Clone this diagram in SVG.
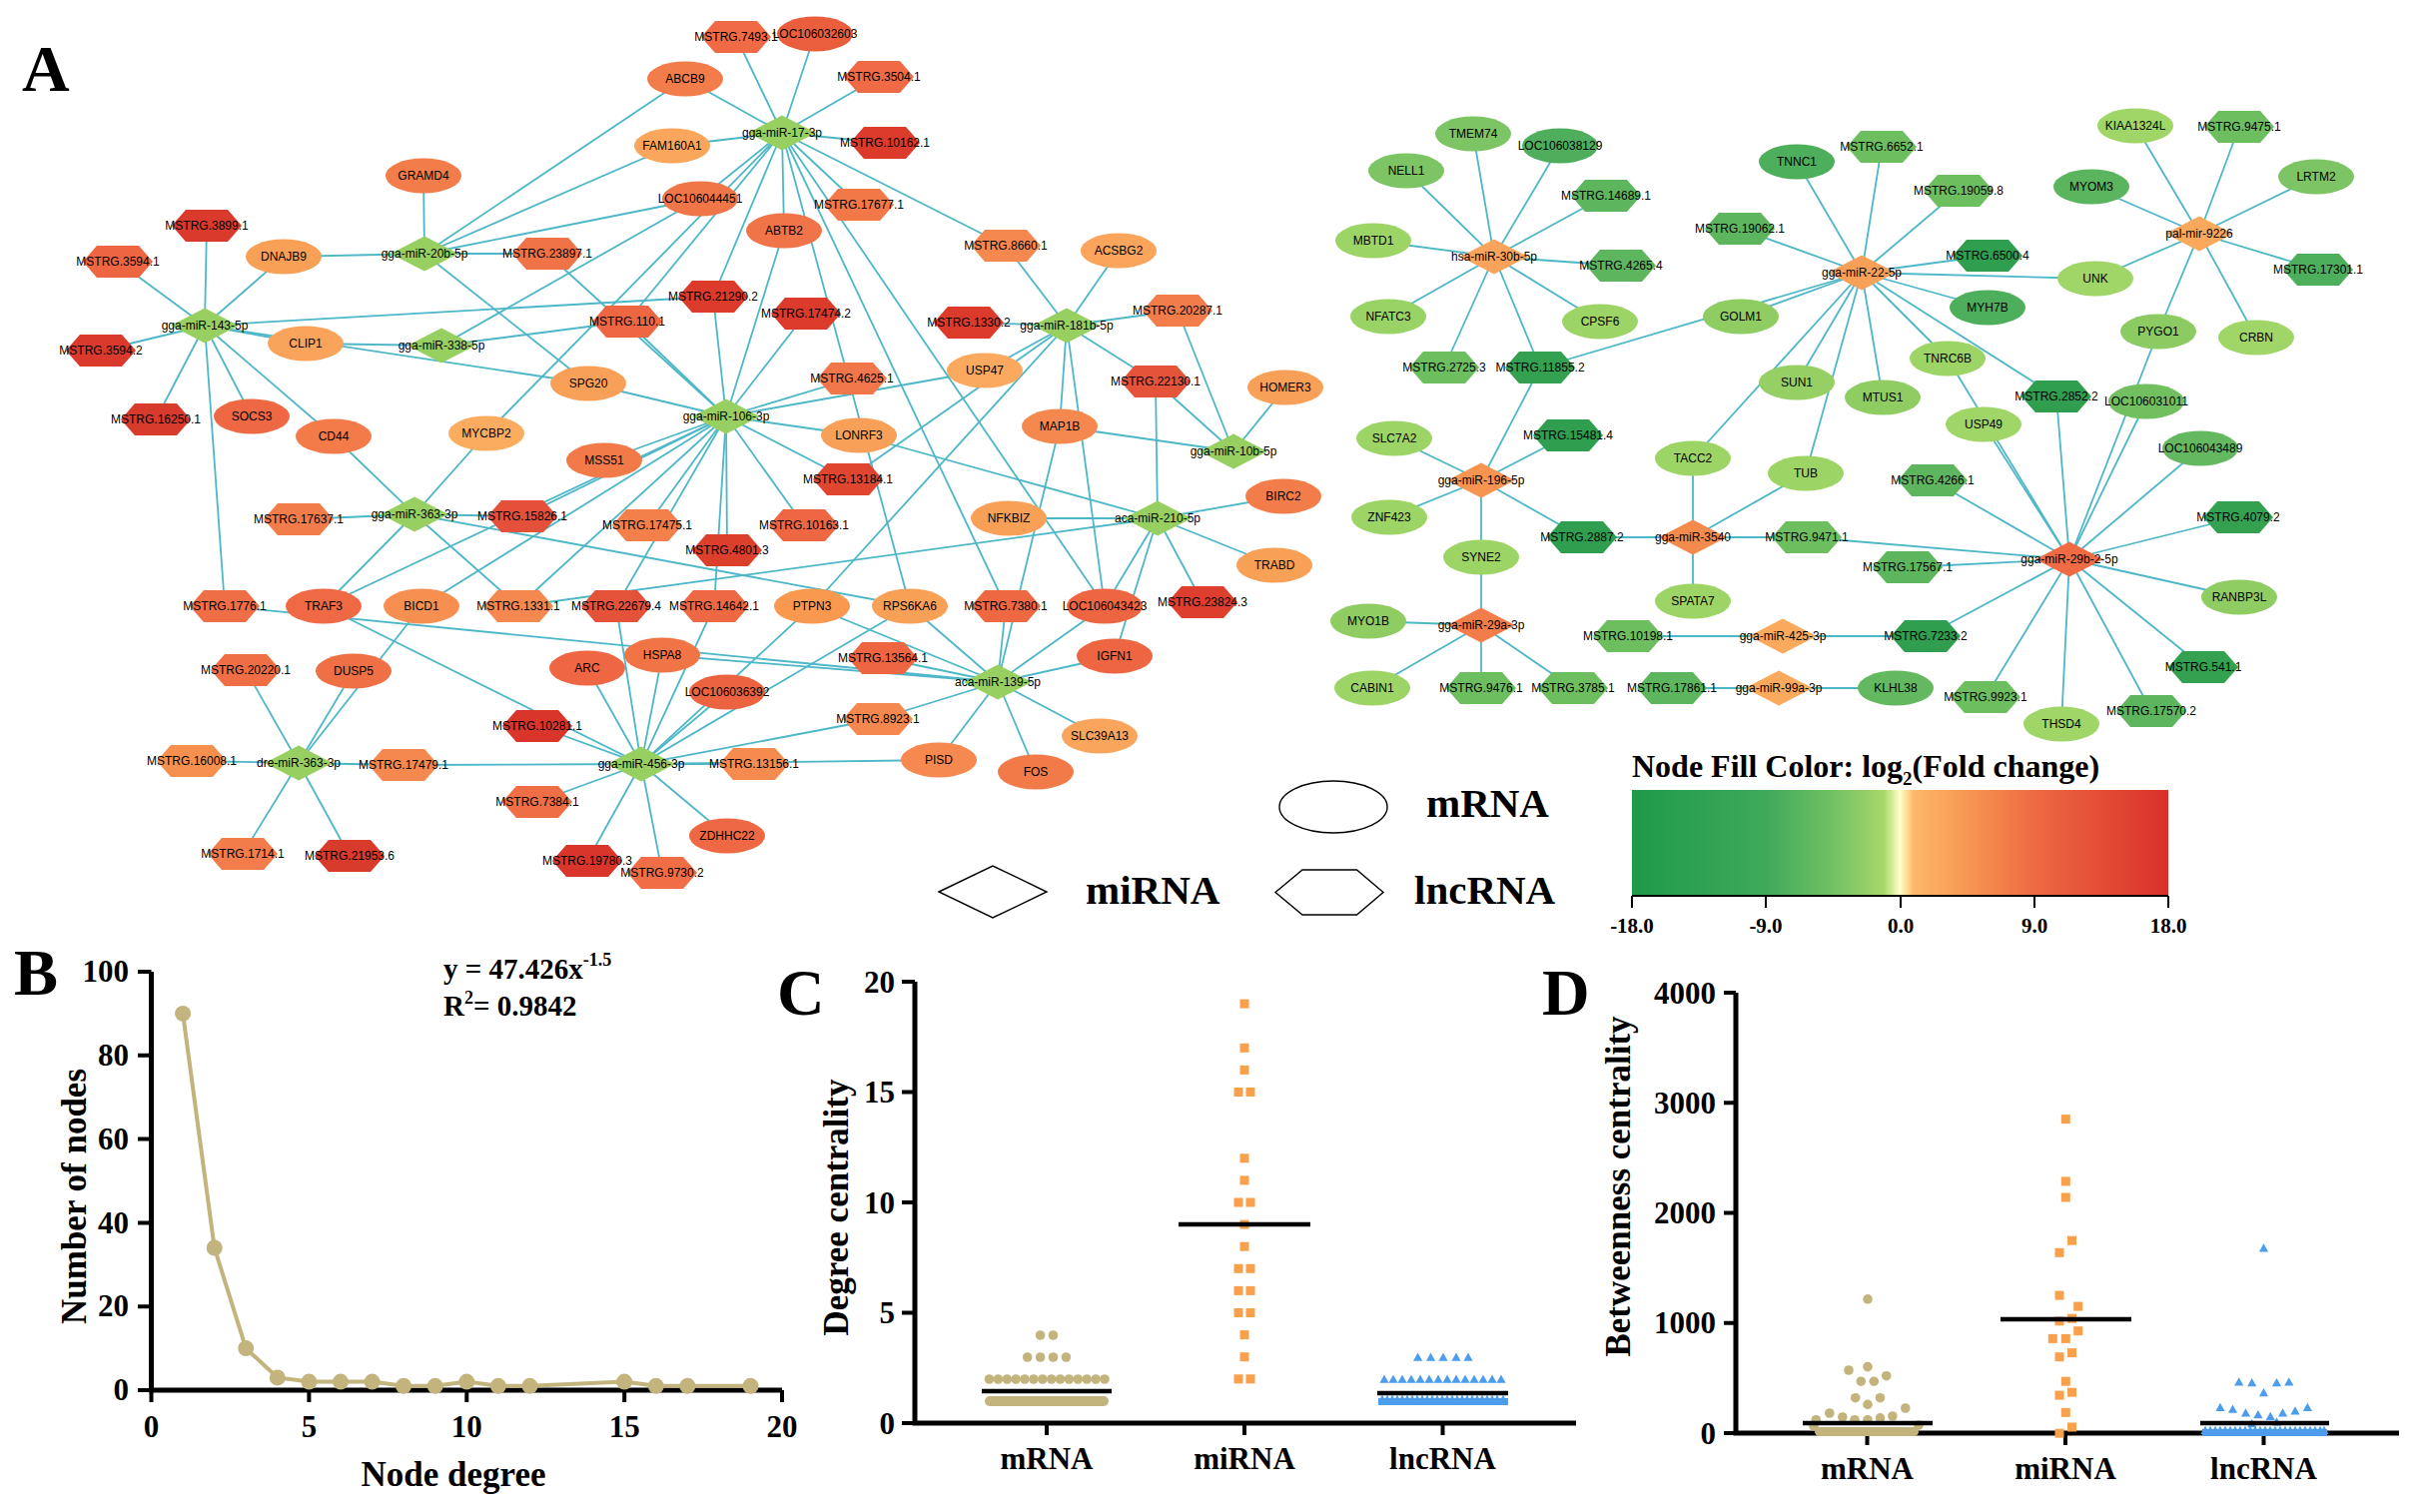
<svg xmlns="http://www.w3.org/2000/svg" width="2413" height="1514" viewBox="0 0 2413 1514">
<style>
#edges line{stroke:#4DB7C8;stroke-width:1.8}
.nodes text{font-family:"Liberation Sans",Arial,sans-serif;font-size:12px;text-anchor:middle;fill:#000}
.sf{font-family:"Liberation Serif","Times New Roman",serif;font-weight:bold;fill:#000}
.big{font-size:66px}
.tk{font-size:31px}
.ttl{font-size:35px}
.axis{fill:none;stroke:#000;stroke-width:5}
.tick{stroke:#000;stroke-width:4}
.mean{stroke:#000;stroke-width:4.5}
.lg{fill:none;stroke:#000;stroke-width:1.4}
.pm{fill:#C2B47C}
.pi{fill:#F9A04C}
.pl{fill:#4C9DEB}
</style>
<defs>
<polygon id="hx" points="-35,0 -21,-16 21,-16 35,0 21,16 -21,16"/>
<polygon id="dm" points="-34,0 0,-17.5 34,0 0,17.5"/>
<polygon id="tr" points="-4.6,4 0,-4.2 4.6,4"/>
<rect id="sq" x="-4.5" y="-4.5" width="9" height="9"/>
<linearGradient id="fc" x1="0" x2="1" y1="0" y2="0">
<stop offset="0" stop-color="#1E9A4A"/>
<stop offset="0.25" stop-color="#3FA95A"/>
<stop offset="0.38" stop-color="#74C264"/>
<stop offset="0.47" stop-color="#A8D86A"/>
<stop offset="0.50" stop-color="#FFFFC8"/>
<stop offset="0.525" stop-color="#FDB868"/>
<stop offset="0.63" stop-color="#F79552"/>
<stop offset="0.75" stop-color="#EE6A42"/>
<stop offset="1" stop-color="#D9302A"/>
</linearGradient>
</defs>
<rect width="2413" height="1514" fill="#fff"/>
<text class="sf big" x="22" y="91">A</text>

<g id="edges">
<!-- gga-miR-17-3p -->
<line x1="783" y1="133" x2="737" y2="37"/><line x1="783" y1="133" x2="816" y2="34"/><line x1="783" y1="133" x2="686" y2="79"/><line x1="783" y1="133" x2="880" y2="77"/><line x1="783" y1="133" x2="673" y2="146"/><line x1="783" y1="133" x2="886" y2="143"/><line x1="783" y1="133" x2="860" y2="205"/><line x1="783" y1="133" x2="1007" y2="246"/><line x1="783" y1="133" x2="785" y2="231"/><line x1="783" y1="133" x2="701" y2="199"/><line x1="783" y1="133" x2="628" y2="322"/><line x1="783" y1="133" x2="714" y2="297"/><line x1="783" y1="133" x2="1007" y2="607"/><line x1="783" y1="133" x2="1106" y2="607"/><line x1="783" y1="133" x2="911" y2="607"/><line x1="783" y1="133" x2="487" y2="434"/>
<!-- gga-miR-20b-5p -->
<line x1="425" y1="254" x2="424" y2="176"/><line x1="425" y1="254" x2="284" y2="257"/><line x1="425" y1="254" x2="686" y2="79"/><line x1="425" y1="254" x2="673" y2="146"/><line x1="425" y1="254" x2="701" y2="199"/><line x1="425" y1="254" x2="548" y2="254"/><line x1="425" y1="254" x2="589" y2="384"/>
<!-- gga-miR-143-5p -->
<line x1="205" y1="326" x2="207" y2="226"/><line x1="205" y1="326" x2="118" y2="262"/><line x1="205" y1="326" x2="284" y2="257"/><line x1="205" y1="326" x2="101" y2="351"/><line x1="205" y1="326" x2="306" y2="344"/><line x1="205" y1="326" x2="589" y2="384"/><line x1="205" y1="326" x2="714" y2="297"/><line x1="205" y1="326" x2="156" y2="420"/><line x1="205" y1="326" x2="252" y2="417"/><line x1="205" y1="326" x2="334" y2="437"/><line x1="205" y1="326" x2="225" y2="607"/>
<!-- gga-miR-338-5p -->
<line x1="442" y1="346" x2="306" y2="344"/><line x1="442" y1="346" x2="628" y2="322"/><line x1="442" y1="346" x2="701" y2="199"/>
<!-- gga-miR-106-3p -->
<line x1="727" y1="417" x2="548" y2="254"/><line x1="727" y1="417" x2="628" y2="322"/><line x1="727" y1="417" x2="589" y2="384"/><line x1="727" y1="417" x2="714" y2="297"/><line x1="727" y1="417" x2="785" y2="231"/><line x1="727" y1="417" x2="807" y2="314"/><line x1="727" y1="417" x2="853" y2="379"/><line x1="727" y1="417" x2="986" y2="371"/><line x1="727" y1="417" x2="860" y2="436"/><line x1="727" y1="417" x2="605" y2="461"/><line x1="727" y1="417" x2="523" y2="517"/><line x1="727" y1="417" x2="324" y2="607"/><line x1="727" y1="417" x2="422" y2="607"/><line x1="727" y1="417" x2="519" y2="607"/><line x1="727" y1="417" x2="617" y2="607"/><line x1="727" y1="417" x2="648" y2="526"/><line x1="727" y1="417" x2="728" y2="551"/><line x1="727" y1="417" x2="715" y2="607"/><line x1="727" y1="417" x2="805" y2="526"/><line x1="727" y1="417" x2="849" y2="480"/>
<!-- gga-miR-181b-5p -->
<line x1="1068" y1="326" x2="1007" y2="246"/><line x1="1068" y1="326" x2="1120" y2="251"/><line x1="1068" y1="326" x2="970" y2="323"/><line x1="1068" y1="326" x2="1179" y2="311"/><line x1="1068" y1="326" x2="986" y2="371"/><line x1="1068" y1="326" x2="1157" y2="382"/><line x1="1068" y1="326" x2="1061" y2="427"/><line x1="1068" y1="326" x2="1106" y2="607"/><line x1="1068" y1="326" x2="849" y2="480"/><line x1="1068" y1="326" x2="813" y2="607"/>
<!-- gga-miR-10b-5p -->
<line x1="1235" y1="452" x2="1061" y2="427"/><line x1="1235" y1="452" x2="1157" y2="382"/><line x1="1235" y1="452" x2="1179" y2="311"/><line x1="1235" y1="452" x2="1287" y2="388"/>
<!-- gga-miR-363-3p -->
<line x1="415" y1="515" x2="299" y2="520"/><line x1="415" y1="515" x2="523" y2="517"/><line x1="415" y1="515" x2="334" y2="437"/><line x1="415" y1="515" x2="487" y2="434"/><line x1="415" y1="515" x2="324" y2="607"/><line x1="415" y1="515" x2="519" y2="607"/><line x1="415" y1="515" x2="911" y2="607"/>
<!-- aca-miR-210-5p -->
<line x1="1159" y1="519" x2="1010" y2="519"/><line x1="1159" y1="519" x2="1285" y2="497"/><line x1="1159" y1="519" x2="1276" y2="566"/><line x1="1159" y1="519" x2="1204" y2="603"/><line x1="1159" y1="519" x2="1106" y2="607"/><line x1="1159" y1="519" x2="1116" y2="657"/><line x1="1159" y1="519" x2="1157" y2="382"/><line x1="1159" y1="519" x2="519" y2="607"/><line x1="1159" y1="519" x2="860" y2="436"/>
<!-- aca-miR-139-5p -->
<line x1="999" y1="683" x2="884" y2="659"/><line x1="999" y1="683" x2="1116" y2="657"/><line x1="999" y1="683" x2="1106" y2="607"/><line x1="999" y1="683" x2="1007" y2="607"/><line x1="999" y1="683" x2="911" y2="607"/><line x1="999" y1="683" x2="813" y2="607"/><line x1="999" y1="683" x2="879" y2="720"/><line x1="999" y1="683" x2="1101" y2="737"/><line x1="999" y1="683" x2="940" y2="761"/><line x1="999" y1="683" x2="1037" y2="773"/><line x1="999" y1="683" x2="1061" y2="427"/><line x1="999" y1="683" x2="225" y2="607"/><line x1="999" y1="683" x2="663" y2="656"/>
<!-- dre-miR-363-3p -->
<line x1="299" y1="764" x2="246" y2="671"/><line x1="299" y1="764" x2="354" y2="672"/><line x1="299" y1="764" x2="422" y2="607"/><line x1="299" y1="764" x2="192" y2="762"/><line x1="299" y1="764" x2="404" y2="766"/><line x1="299" y1="764" x2="243" y2="855"/><line x1="299" y1="764" x2="350" y2="857"/>
<!-- gga-miR-456-3p -->
<line x1="642" y1="765" x2="404" y2="766"/><line x1="642" y1="765" x2="538" y2="727"/><line x1="642" y1="765" x2="324" y2="607"/><line x1="642" y1="765" x2="588" y2="669"/><line x1="642" y1="765" x2="663" y2="656"/><line x1="642" y1="765" x2="617" y2="607"/><line x1="642" y1="765" x2="538" y2="803"/><line x1="642" y1="765" x2="588" y2="862"/><line x1="642" y1="765" x2="663" y2="874"/><line x1="642" y1="765" x2="728" y2="837"/><line x1="642" y1="765" x2="755" y2="765"/><line x1="642" y1="765" x2="940" y2="761"/><line x1="642" y1="765" x2="879" y2="720"/><line x1="642" y1="765" x2="728" y2="693"/><line x1="642" y1="765" x2="813" y2="607"/><line x1="642" y1="765" x2="911" y2="607"/><line x1="642" y1="765" x2="715" y2="607"/>
<!-- hsa-miR-30b-5p -->
<line x1="1496" y1="257" x2="1475" y2="134"/><line x1="1496" y1="257" x2="1562" y2="146"/><line x1="1496" y1="257" x2="1408" y2="171"/><line x1="1496" y1="257" x2="1608" y2="196"/><line x1="1496" y1="257" x2="1375" y2="241"/><line x1="1496" y1="257" x2="1623" y2="266"/><line x1="1496" y1="257" x2="1390" y2="317"/><line x1="1496" y1="257" x2="1602" y2="322"/><line x1="1496" y1="257" x2="1446" y2="368"/><line x1="1496" y1="257" x2="1542" y2="368"/>
<!-- gga-miR-22-5p -->
<line x1="1864" y1="273" x2="1742" y2="229"/><line x1="1864" y1="273" x2="1799" y2="162"/><line x1="1864" y1="273" x2="1884" y2="147"/><line x1="1864" y1="273" x2="1961" y2="191"/><line x1="1864" y1="273" x2="1990" y2="256"/><line x1="1864" y1="273" x2="2098" y2="279"/><line x1="1864" y1="273" x2="1990" y2="308"/><line x1="1864" y1="273" x2="1950" y2="359"/><line x1="1864" y1="273" x2="2059" y2="397"/><line x1="1864" y1="273" x2="1885" y2="398"/><line x1="1864" y1="273" x2="1743" y2="317"/><line x1="1864" y1="273" x2="1542" y2="368"/><line x1="1864" y1="273" x2="1799" y2="383"/><line x1="1864" y1="273" x2="1695" y2="459"/><line x1="1864" y1="273" x2="1808" y2="474"/>
<!-- pal-mir-9226 -->
<line x1="2202" y1="234" x2="2138" y2="126"/><line x1="2202" y1="234" x2="2242" y2="127"/><line x1="2202" y1="234" x2="2319" y2="177"/><line x1="2202" y1="234" x2="2094" y2="187"/><line x1="2202" y1="234" x2="2098" y2="279"/><line x1="2202" y1="234" x2="2321" y2="270"/><line x1="2202" y1="234" x2="2161" y2="332"/><line x1="2202" y1="234" x2="2259" y2="338"/>
<!-- gga-miR-196-5p -->
<line x1="1483" y1="481" x2="1396" y2="439"/><line x1="1483" y1="481" x2="1570" y2="436"/><line x1="1483" y1="481" x2="1391" y2="518"/><line x1="1483" y1="481" x2="1483" y2="558"/><line x1="1483" y1="481" x2="1584" y2="538"/><line x1="1483" y1="481" x2="1542" y2="368"/>
<!-- gga-miR-3540 -->
<line x1="1695" y1="538" x2="1584" y2="538"/><line x1="1695" y1="538" x2="1809" y2="538"/><line x1="1695" y1="538" x2="1695" y2="459"/><line x1="1695" y1="538" x2="1808" y2="474"/><line x1="1695" y1="538" x2="1695" y2="602"/>
<!-- gga-miR-29a-3p -->
<line x1="1483" y1="626" x2="1483" y2="558"/><line x1="1483" y1="626" x2="1370" y2="622"/><line x1="1483" y1="626" x2="1374" y2="689"/><line x1="1483" y1="626" x2="1483" y2="689"/><line x1="1483" y1="626" x2="1575" y2="689"/>
<!-- gga-miR-425-3p / gga-miR-99a-3p -->
<line x1="1785" y1="637" x2="1630" y2="637"/><line x1="1785" y1="637" x2="1928" y2="637"/>
<line x1="1781" y1="689" x2="1674" y2="689"/><line x1="1781" y1="689" x2="1898" y2="689"/>
<!-- gga-miR-29b-2-5p -->
<line x1="2072" y1="560" x2="1809" y2="538"/><line x1="2072" y1="560" x2="1935" y2="481"/><line x1="2072" y1="560" x2="1910" y2="568"/><line x1="2072" y1="560" x2="2241" y2="518"/><line x1="2072" y1="560" x2="2242" y2="598"/><line x1="2072" y1="560" x2="1928" y2="637"/><line x1="2072" y1="560" x2="2206" y2="668"/><line x1="2072" y1="560" x2="2154" y2="712"/><line x1="2072" y1="560" x2="2064" y2="725"/><line x1="2072" y1="560" x2="1988" y2="698"/><line x1="2072" y1="560" x2="2203" y2="449"/><line x1="2072" y1="560" x2="2059" y2="397"/><line x1="2072" y1="560" x2="2149" y2="402"/><line x1="2072" y1="560" x2="2161" y2="332"/><line x1="2072" y1="560" x2="1986" y2="425"/><line x1="2072" y1="560" x2="1950" y2="359"/>
</g>

<g class="nodes">
<!-- left lncRNA -->
<g id="MSTRG_7493_1"><use href="#hx" x="737" y="37" fill="#F06A45"/><text x="737" y="41">MSTRG.7493.1</text></g>
<g id="MSTRG_3504_1"><use href="#hx" x="880" y="77" fill="#F06A45"/><text x="880" y="81">MSTRG.3504.1</text></g>
<g id="MSTRG_10162_1"><use href="#hx" x="886" y="143" fill="#DC3A2B"/><text x="886" y="147">MSTRG.10162.1</text></g>
<g id="MSTRG_17677_1"><use href="#hx" x="860" y="205" fill="#F27848"/><text x="860" y="209">MSTRG.17677.1</text></g>
<g id="MSTRG_3899_1"><use href="#hx" x="207" y="226" fill="#D93A2B"/><text x="207" y="230">MSTRG.3899.1</text></g>
<g id="MSTRG_3594_1"><use href="#hx" x="118" y="262" fill="#EE6541"/><text x="118" y="266">MSTRG.3594.1</text></g>
<g id="MSTRG_23897_1"><use href="#hx" x="548" y="254" fill="#F07247"/><text x="548" y="258">MSTRG.23897.1</text></g>
<g id="MSTRG_8660_1"><use href="#hx" x="1007" y="246" fill="#F5884E"/><text x="1007" y="250">MSTRG.8660.1</text></g>
<g id="MSTRG_21290_2"><use href="#hx" x="714" y="297" fill="#DC3A2B"/><text x="714" y="301">MSTRG.21290.2</text></g>
<g id="MSTRG_17474_2"><use href="#hx" x="807" y="314" fill="#DC3A2B"/><text x="807" y="318">MSTRG.17474.2</text></g>
<g id="MSTRG_1330_2"><use href="#hx" x="970" y="323" fill="#DC3A2B"/><text x="970" y="327">MSTRG.1330.2</text></g>
<g id="MSTRG_20287_1"><use href="#hx" x="1179" y="311" fill="#F27C4A"/><text x="1179" y="315">MSTRG.20287.1</text></g>
<g id="MSTRG_110_1"><use href="#hx" x="628" y="322" fill="#EE6642"/><text x="628" y="326">MSTRG.110.1</text></g>
<g id="MSTRG_3594_2"><use href="#hx" x="101" y="351" fill="#D93A2B"/><text x="101" y="355">MSTRG.3594.2</text></g>
<g id="MSTRG_4625_1"><use href="#hx" x="853" y="379" fill="#F1764A"/><text x="853" y="383">MSTRG.4625.1</text></g>
<g id="MSTRG_22130_1"><use href="#hx" x="1157" y="382" fill="#E4533A"/><text x="1157" y="386">MSTRG.22130.1</text></g>
<g id="MSTRG_16250_1"><use href="#hx" x="156" y="420" fill="#D83A2B"/><text x="156" y="424">MSTRG.16250.1</text></g>
<g id="MSTRG_13184_1"><use href="#hx" x="849" y="480" fill="#E0452F"/><text x="849" y="484">MSTRG.13184.1</text></g>
<g id="MSTRG_15826_1"><use href="#hx" x="523" y="517" fill="#E4503A"/><text x="523" y="521">MSTRG.15826.1</text></g>
<g id="MSTRG_17637_1"><use href="#hx" x="299" y="520" fill="#F27C4A"/><text x="299" y="524">MSTRG.17637.1</text></g>
<g id="MSTRG_17475_1"><use href="#hx" x="648" y="526" fill="#F37F4B"/><text x="648" y="530">MSTRG.17475.1</text></g>
<g id="MSTRG_10163_1"><use href="#hx" x="805" y="526" fill="#EE6642"/><text x="805" y="530">MSTRG.10163.1</text></g>
<g id="MSTRG_4801_3"><use href="#hx" x="728" y="551" fill="#DD3F2D"/><text x="728" y="555">MSTRG.4801.3</text></g>
<g id="MSTRG_1776_1"><use href="#hx" x="225" y="607" fill="#F06E45"/><text x="225" y="611">MSTRG.1776.1</text></g>
<g id="MSTRG_1331_1"><use href="#hx" x="519" y="607" fill="#F5884E"/><text x="519" y="611">MSTRG.1331.1</text></g>
<g id="MSTRG_22679_4"><use href="#hx" x="617" y="607" fill="#E4523A"/><text x="617" y="611">MSTRG.22679.4</text></g>
<g id="MSTRG_14642_1"><use href="#hx" x="715" y="607" fill="#EE6843"/><text x="715" y="611">MSTRG.14642.1</text></g>
<g id="MSTRG_7380_1"><use href="#hx" x="1007" y="607" fill="#EE6842"/><text x="1007" y="611">MSTRG.7380.1</text></g>
<g id="MSTRG_23824_3"><use href="#hx" x="1204" y="603" fill="#DD3E2E"/><text x="1204" y="607">MSTRG.23824.3</text></g>
<g id="MSTRG_13564_1"><use href="#hx" x="884" y="659" fill="#EE6541"/><text x="884" y="663">MSTRG.13564.1</text></g>
<g id="MSTRG_20220_1"><use href="#hx" x="246" y="671" fill="#F06E45"/><text x="246" y="675">MSTRG.20220.1</text></g>
<g id="MSTRG_8923_1"><use href="#hx" x="879" y="720" fill="#F5884E"/><text x="879" y="724">MSTRG.8923.1</text></g>
<g id="MSTRG_10281_1"><use href="#hx" x="538" y="727" fill="#D9352B"/><text x="538" y="731">MSTRG.10281.1</text></g>
<g id="MSTRG_16008_1"><use href="#hx" x="192" y="762" fill="#F6904F"/><text x="192" y="766">MSTRG.16008.1</text></g>
<g id="MSTRG_17479_1"><use href="#hx" x="404" y="766" fill="#F5884E"/><text x="404" y="770">MSTRG.17479.1</text></g>
<g id="MSTRG_13156_1"><use href="#hx" x="755" y="765" fill="#F58B4F"/><text x="755" y="769">MSTRG.13156.1</text></g>
<g id="MSTRG_7384_1"><use href="#hx" x="538" y="803" fill="#F06E45"/><text x="538" y="807">MSTRG.7384.1</text></g>
<g id="MSTRG_1714_1"><use href="#hx" x="243" y="855" fill="#F27D4A"/><text x="243" y="859">MSTRG.1714.1</text></g>
<g id="MSTRG_21953_6"><use href="#hx" x="350" y="857" fill="#D83A2C"/><text x="350" y="861">MSTRG.21953.6</text></g>
<g id="MSTRG_19780_3"><use href="#hx" x="588" y="862" fill="#D9352B"/><text x="588" y="866">MSTRG.19780.3</text></g>
<g id="MSTRG_9730_2"><use href="#hx" x="663" y="874" fill="#F06D45"/><text x="663" y="878">MSTRG.9730.2</text></g>
<!-- left mRNA -->
<g id="ABCB9"><ellipse cx="686" cy="79" rx="38" ry="17.5" fill="#F27C4A"/><text x="686" y="83">ABCB9</text></g>
<g id="FAM160A1"><ellipse cx="673" cy="146" rx="38" ry="17.5" fill="#FAA65C"/><text x="673" y="150">FAM160A1</text></g>
<g id="LOC106044451"><ellipse cx="701" cy="199" rx="38" ry="17.5" fill="#F07547"/><text x="701" y="203">LOC106044451</text></g>
<g id="GRAMD4"><ellipse cx="424" cy="176" rx="38" ry="17.5" fill="#F27C4A"/><text x="424" y="180">GRAMD4</text></g>
<g id="DNAJB9"><ellipse cx="284" cy="257" rx="38" ry="17.5" fill="#F9A057"/><text x="284" y="261">DNAJB9</text></g>
<g id="CLIP1"><ellipse cx="306" cy="344" rx="38" ry="17.5" fill="#FAA45B"/><text x="306" y="348">CLIP1</text></g>
<g id="SPG20"><ellipse cx="589" cy="384" rx="38" ry="17.5" fill="#F9A058"/><text x="589" y="388">SPG20</text></g>
<g id="SOCS3"><ellipse cx="252" cy="417" rx="38" ry="17.5" fill="#EE6843"/><text x="252" y="421">SOCS3</text></g>
<g id="CD44"><ellipse cx="334" cy="437" rx="38" ry="17.5" fill="#F27B49"/><text x="334" y="441">CD44</text></g>
<g id="MYCBP2"><ellipse cx="487" cy="434" rx="38" ry="17.5" fill="#FCAC5E"/><text x="487" y="438">MYCBP2</text></g>
<g id="MSS51"><ellipse cx="605" cy="461" rx="38" ry="17.5" fill="#F27A49"/><text x="605" y="465">MSS51</text></g>
<g id="LOC106032603"><ellipse cx="816" cy="34" rx="38" ry="17.5" fill="#EA5E3E"/><text x="816" y="38">LOC106032603</text></g>
<g id="ABTB2"><ellipse cx="785" cy="231" rx="38" ry="17.5" fill="#F07447"/><text x="785" y="235">ABTB2</text></g>
<g id="ACSBG2"><ellipse cx="1120" cy="251" rx="38" ry="17.5" fill="#FAA55B"/><text x="1120" y="255">ACSBG2</text></g>
<g id="USP47"><ellipse cx="986" cy="371" rx="38" ry="17.5" fill="#FBA95E"/><text x="986" y="375">USP47</text></g>
<g id="LONRF3"><ellipse cx="860" cy="436" rx="38" ry="17.5" fill="#F9A058"/><text x="860" y="440">LONRF3</text></g>
<g id="MAP1B"><ellipse cx="1061" cy="427" rx="38" ry="17.5" fill="#F5884E"/><text x="1061" y="431">MAP1B</text></g>
<g id="HOMER3"><ellipse cx="1287" cy="388" rx="38" ry="17.5" fill="#F9A058"/><text x="1287" y="392">HOMER3</text></g>
<g id="NFKBIZ"><ellipse cx="1010" cy="519" rx="38" ry="17.5" fill="#F9A057"/><text x="1010" y="523">NFKBIZ</text></g>
<g id="BIRC2"><ellipse cx="1285" cy="497" rx="38" ry="17.5" fill="#F27C4A"/><text x="1285" y="501">BIRC2</text></g>
<g id="TRABD"><ellipse cx="1276" cy="566" rx="38" ry="17.5" fill="#F9A057"/><text x="1276" y="570">TRABD</text></g>
<g id="TRAF3"><ellipse cx="324" cy="607" rx="38" ry="17.5" fill="#EF6A44"/><text x="324" y="611">TRAF3</text></g>
<g id="BICD1"><ellipse cx="422" cy="607" rx="38" ry="17.5" fill="#F78F51"/><text x="422" y="611">BICD1</text></g>
<g id="PTPN3"><ellipse cx="813" cy="607" rx="38" ry="17.5" fill="#F8994F"/><text x="813" y="611">PTPN3</text></g>
<g id="RPS6KA6"><ellipse cx="911" cy="607" rx="38" ry="17.5" fill="#F9A057"/><text x="911" y="611">RPS6KA6</text></g>
<g id="LOC106043423"><ellipse cx="1106" cy="607" rx="38" ry="17.5" fill="#EE6541"/><text x="1106" y="611">LOC106043423</text></g>
<g id="HSPA8"><ellipse cx="663" cy="656" rx="38" ry="17.5" fill="#F07446"/><text x="663" y="660">HSPA8</text></g>
<g id="ARC"><ellipse cx="588" cy="669" rx="38" ry="17.5" fill="#EE6642"/><text x="588" y="673">ARC</text></g>
<g id="DUSP5"><ellipse cx="354" cy="672" rx="38" ry="17.5" fill="#F07045"/><text x="354" y="676">DUSP5</text></g>
<g id="IGFN1"><ellipse cx="1116" cy="657" rx="38" ry="17.5" fill="#EE6541"/><text x="1116" y="661">IGFN1</text></g>
<g id="LOC106036392"><ellipse cx="728" cy="693" rx="38" ry="17.5" fill="#EC6340"/><text x="728" y="697">LOC106036392</text></g>
<g id="SLC39A13"><ellipse cx="1101" cy="737" rx="38" ry="17.5" fill="#FAA55C"/><text x="1101" y="741">SLC39A13</text></g>
<g id="PISD"><ellipse cx="940" cy="761" rx="38" ry="17.5" fill="#F5894F"/><text x="940" y="765">PISD</text></g>
<g id="FOS"><ellipse cx="1037" cy="773" rx="38" ry="17.5" fill="#F27A49"/><text x="1037" y="777">FOS</text></g>
<g id="ZDHHC22"><ellipse cx="728" cy="837" rx="38" ry="17.5" fill="#EE6843"/><text x="728" y="841">ZDHHC22</text></g>
<!-- left miRNA -->
<g id="gga-miR-17-3p"><use href="#dm" x="783" y="133" fill="#97D060"/><text x="783" y="137">gga-miR-17-3p</text></g>
<g id="gga-miR-20b-5p"><use href="#dm" x="425" y="254" fill="#97D060"/><text x="425" y="258">gga-miR-20b-5p</text></g>
<g id="gga-miR-143-5p"><use href="#dm" x="205" y="326" fill="#97D060"/><text x="205" y="330">gga-miR-143-5p</text></g>
<g id="gga-miR-338-5p"><use href="#dm" x="442" y="346" fill="#97D060"/><text x="442" y="350">gga-miR-338-5p</text></g>
<g id="gga-miR-181b-5p"><use href="#dm" x="1068" y="326" fill="#97D060"/><text x="1068" y="330">gga-miR-181b-5p</text></g>
<g id="gga-miR-106-3p"><use href="#dm" x="727" y="417" fill="#97D060"/><text x="727" y="421">gga-miR-106-3p</text></g>
<g id="gga-miR-10b-5p"><use href="#dm" x="1235" y="452" fill="#97D060"/><text x="1235" y="456">gga-miR-10b-5p</text></g>
<g id="gga-miR-363-3p"><use href="#dm" x="415" y="515" fill="#97D060"/><text x="415" y="519">gga-miR-363-3p</text></g>
<g id="aca-miR-210-5p"><use href="#dm" x="1159" y="519" fill="#97D060"/><text x="1159" y="523">aca-miR-210-5p</text></g>
<g id="aca-miR-139-5p"><use href="#dm" x="999" y="683" fill="#97D060"/><text x="999" y="687">aca-miR-139-5p</text></g>
<g id="dre-miR-363-3p"><use href="#dm" x="299" y="764" fill="#97D060"/><text x="299" y="768">dre-miR-363-3p</text></g>
<g id="gga-miR-456-3p"><use href="#dm" x="642" y="765" fill="#97D060"/><text x="642" y="769">gga-miR-456-3p</text></g>

<!-- right lncRNA -->
<g id="MSTRG_14689_1"><use href="#hx" x="1608" y="196" fill="#5DB65E"/><text x="1608" y="200">MSTRG.14689.1</text></g>
<g id="MSTRG_4265_4"><use href="#hx" x="1623" y="266" fill="#5DB65E"/><text x="1623" y="270">MSTRG.4265.4</text></g>
<g id="MSTRG_2725_3"><use href="#hx" x="1446" y="368" fill="#6DBE5F"/><text x="1446" y="372">MSTRG.2725.3</text></g>
<g id="MSTRG_11855_2"><use href="#hx" x="1542" y="368" fill="#33A150"/><text x="1542" y="372">MSTRG.11855.2</text></g>
<g id="MSTRG_19062_1"><use href="#hx" x="1742" y="229" fill="#5DB65E"/><text x="1742" y="233">MSTRG.19062.1</text></g>
<g id="MSTRG_15481_4"><use href="#hx" x="1570" y="436" fill="#2F9E4F"/><text x="1570" y="440">MSTRG.15481.4</text></g>
<g id="MSTRG_6652_1"><use href="#hx" x="1884" y="147" fill="#6DBE5F"/><text x="1884" y="151">MSTRG.6652.1</text></g>
<g id="MSTRG_19059_8"><use href="#hx" x="1961" y="191" fill="#6DBE5F"/><text x="1961" y="195">MSTRG.19059.8</text></g>
<g id="MSTRG_6500_4"><use href="#hx" x="1990" y="256" fill="#2F9E4F"/><text x="1990" y="260">MSTRG.6500.4</text></g>
<g id="MSTRG_9475_1"><use href="#hx" x="2242" y="127" fill="#6DBE5F"/><text x="2242" y="131">MSTRG.9475.1</text></g>
<g id="MSTRG_17301_1"><use href="#hx" x="2321" y="270" fill="#4DAE5B"/><text x="2321" y="274">MSTRG.17301.1</text></g>
<g id="MSTRG_2852_2"><use href="#hx" x="2059" y="397" fill="#2F9E4F"/><text x="2059" y="401">MSTRG.2852.2</text></g>
<g id="MSTRG_4266_1"><use href="#hx" x="1935" y="481" fill="#5DB65E"/><text x="1935" y="485">MSTRG.4266.1</text></g>
<g id="MSTRG_4079_2"><use href="#hx" x="2241" y="518" fill="#33A150"/><text x="2241" y="522">MSTRG.4079.2</text></g>
<g id="MSTRG_2887_2"><use href="#hx" x="1584" y="538" fill="#2F9E4F"/><text x="1584" y="542">MSTRG.2887.2</text></g>
<g id="MSTRG_9471_1"><use href="#hx" x="1809" y="538" fill="#6DBE5F"/><text x="1809" y="542">MSTRG.9471.1</text></g>
<g id="MSTRG_17567_1"><use href="#hx" x="1910" y="568" fill="#5DB65E"/><text x="1910" y="572">MSTRG.17567.1</text></g>
<g id="MSTRG_10198_1"><use href="#hx" x="1630" y="637" fill="#6DBE5F"/><text x="1630" y="641">MSTRG.10198.1</text></g>
<g id="MSTRG_7233_2"><use href="#hx" x="1928" y="637" fill="#2F9E4F"/><text x="1928" y="641">MSTRG.7233.2</text></g>
<g id="MSTRG_541_1"><use href="#hx" x="2206" y="668" fill="#33A150"/><text x="2206" y="672">MSTRG.541.1</text></g>
<g id="MSTRG_9476_1"><use href="#hx" x="1483" y="689" fill="#6DBE5F"/><text x="1483" y="693">MSTRG.9476.1</text></g>
<g id="MSTRG_3785_1"><use href="#hx" x="1575" y="689" fill="#6DBE5F"/><text x="1575" y="693">MSTRG.3785.1</text></g>
<g id="MSTRG_17861_1"><use href="#hx" x="1674" y="689" fill="#5DB65E"/><text x="1674" y="693">MSTRG.17861.1</text></g>
<g id="MSTRG_9923_1"><use href="#hx" x="1988" y="698" fill="#6DBE5F"/><text x="1988" y="702">MSTRG.9923.1</text></g>
<g id="MSTRG_17570_2"><use href="#hx" x="2154" y="712" fill="#5DB65E"/><text x="2154" y="716">MSTRG.17570.2</text></g>
<!-- right mRNA -->
<g id="TMEM74"><ellipse cx="1475" cy="134" rx="38" ry="17.5" fill="#7DC465"/><text x="1475" y="138">TMEM74</text></g>
<g id="LOC106038129"><ellipse cx="1562" cy="146" rx="38" ry="17.5" fill="#4FAE5C"/><text x="1562" y="150">LOC106038129</text></g>
<g id="NELL1"><ellipse cx="1408" cy="171" rx="38" ry="17.5" fill="#7DC465"/><text x="1408" y="175">NELL1</text></g>
<g id="MBTD1"><ellipse cx="1375" cy="241" rx="38" ry="17.5" fill="#9DD466"/><text x="1375" y="245">MBTD1</text></g>
<g id="NFATC3"><ellipse cx="1390" cy="317" rx="38" ry="17.5" fill="#9AD365"/><text x="1390" y="321">NFATC3</text></g>
<g id="CPSF6"><ellipse cx="1602" cy="322" rx="38" ry="17.5" fill="#9DD466"/><text x="1602" y="326">CPSF6</text></g>
<g id="GOLM1"><ellipse cx="1743" cy="317" rx="38" ry="17.5" fill="#8FCD63"/><text x="1743" y="321">GOLM1</text></g>
<g id="TNNC1"><ellipse cx="1799" cy="162" rx="38" ry="17.5" fill="#4DAE5B"/><text x="1799" y="166">TNNC1</text></g>
<g id="SUN1"><ellipse cx="1799" cy="383" rx="38" ry="17.5" fill="#96D064"/><text x="1799" y="387">SUN1</text></g>
<g id="SLC7A2"><ellipse cx="1396" cy="439" rx="38" ry="17.5" fill="#9DD466"/><text x="1396" y="443">SLC7A2</text></g>
<g id="KIAA1324L"><ellipse cx="2138" cy="126" rx="38" ry="17.5" fill="#A0D567"/><text x="2138" y="130">KIAA1324L</text></g>
<g id="LRTM2"><ellipse cx="2319" cy="177" rx="38" ry="17.5" fill="#7DC465"/><text x="2319" y="181">LRTM2</text></g>
<g id="MYOM3"><ellipse cx="2094" cy="187" rx="38" ry="17.5" fill="#5BB55E"/><text x="2094" y="191">MYOM3</text></g>
<g id="UNK"><ellipse cx="2098" cy="279" rx="38" ry="17.5" fill="#A0D567"/><text x="2098" y="283">UNK</text></g>
<g id="MYH7B"><ellipse cx="1990" cy="308" rx="38" ry="17.5" fill="#4DAE5B"/><text x="1990" y="312">MYH7B</text></g>
<g id="TNRC6B"><ellipse cx="1950" cy="359" rx="38" ry="17.5" fill="#9DD466"/><text x="1950" y="363">TNRC6B</text></g>
<g id="MTUS1"><ellipse cx="1885" cy="398" rx="38" ry="17.5" fill="#8FCD63"/><text x="1885" y="402">MTUS1</text></g>
<g id="USP49"><ellipse cx="1986" cy="425" rx="38" ry="17.5" fill="#A0D567"/><text x="1986" y="429">USP49</text></g>
<g id="PYGO1"><ellipse cx="2161" cy="332" rx="38" ry="17.5" fill="#8CCB62"/><text x="2161" y="336">PYGO1</text></g>
<g id="LOC106031011"><ellipse cx="2149" cy="402" rx="38" ry="17.5" fill="#72BF60"/><text x="2149" y="406">LOC106031011</text></g>
<g id="CRBN"><ellipse cx="2259" cy="338" rx="38" ry="17.5" fill="#A0D567"/><text x="2259" y="342">CRBN</text></g>
<g id="LOC106043489"><ellipse cx="2203" cy="449" rx="38" ry="17.5" fill="#64B85F"/><text x="2203" y="453">LOC106043489</text></g>
<g id="ZNF423"><ellipse cx="1391" cy="518" rx="38" ry="17.5" fill="#9DD466"/><text x="1391" y="522">ZNF423</text></g>
<g id="TACC2"><ellipse cx="1695" cy="459" rx="38" ry="17.5" fill="#9DD466"/><text x="1695" y="463">TACC2</text></g>
<g id="TUB"><ellipse cx="1808" cy="474" rx="38" ry="17.5" fill="#9DD466"/><text x="1808" y="478">TUB</text></g>
<g id="SYNE2"><ellipse cx="1483" cy="558" rx="38" ry="17.5" fill="#9DD466"/><text x="1483" y="562">SYNE2</text></g>
<g id="SPATA7"><ellipse cx="1695" cy="602" rx="38" ry="17.5" fill="#9DD466"/><text x="1695" y="606">SPATA7</text></g>
<g id="RANBP3L"><ellipse cx="2242" cy="598" rx="38" ry="17.5" fill="#8FCD63"/><text x="2242" y="602">RANBP3L</text></g>
<g id="MYO1B"><ellipse cx="1370" cy="622" rx="38" ry="17.5" fill="#8FCD63"/><text x="1370" y="626">MYO1B</text></g>
<g id="CABIN1"><ellipse cx="1374" cy="689" rx="38" ry="17.5" fill="#9DD466"/><text x="1374" y="693">CABIN1</text></g>
<g id="KLHL38"><ellipse cx="1898" cy="689" rx="38" ry="17.5" fill="#64B85F"/><text x="1898" y="693">KLHL38</text></g>
<g id="THSD4"><ellipse cx="2064" cy="725" rx="38" ry="17.5" fill="#A0D567"/><text x="2064" y="729">THSD4</text></g>
<!-- right miRNA -->
<g id="hsa-miR-30b-5p"><use href="#dm" x="1496" y="257" fill="#F9A45A"/><text x="1496" y="261">hsa-miR-30b-5p</text></g>
<g id="gga-miR-22-5p"><use href="#dm" x="1864" y="273" fill="#F8A058"/><text x="1864" y="277">gga-miR-22-5p</text></g>
<g id="pal-mir-9226"><use href="#dm" x="2202" y="234" fill="#F9A85C"/><text x="2202" y="238">pal-mir-9226</text></g>
<g id="gga-miR-196-5p"><use href="#dm" x="1483" y="481" fill="#F79452"/><text x="1483" y="485">gga-miR-196-5p</text></g>
<g id="gga-miR-3540"><use href="#dm" x="1695" y="538" fill="#F58A4D"/><text x="1695" y="542">gga-miR-3540</text></g>
<g id="gga-miR-29a-3p"><use href="#dm" x="1483" y="626" fill="#F27C4A"/><text x="1483" y="630">gga-miR-29a-3p</text></g>
<g id="gga-miR-425-3p"><use href="#dm" x="1785" y="637" fill="#FBA95D"/><text x="1785" y="641">gga-miR-425-3p</text></g>
<g id="gga-miR-99a-3p"><use href="#dm" x="1781" y="689" fill="#FBA95D"/><text x="1781" y="693">gga-miR-99a-3p</text></g>
<g id="gga-miR-29b-2-5p"><use href="#dm" x="2072" y="560" fill="#F06B44"/><text x="2072" y="564">gga-miR-29b-2-5p</text></g>
</g>

<!-- legend -->
<g id="legend">
<ellipse class="lg" cx="1335" cy="808" rx="54" ry="26"/>
<text class="sf" x="1428" y="818" font-size="41">mRNA</text>
<polygon class="lg" points="940,893 994,867 1048,893 994,919"/>
<text class="sf" x="1087" y="905" font-size="41">miRNA</text>
<polygon class="lg" points="1277,893.5 1304,871 1358.5,871 1385,893.5 1358.5,916 1304,916"/>
<text class="sf" x="1416" y="905" font-size="41">lncRNA</text>
<text class="sf" x="1634" y="778" font-size="32">Node Fill Color:  log<tspan font-size="19" dy="8">2</tspan><tspan dy="-8">(Fold change)</tspan></text>
<rect x="1634" y="791" width="537" height="106" fill="url(#fc)"/>
<path d="M1634,897 H2171 M1634,897 V909 M1768,897 V909 M1903,897 V909 M2037,897 V909 M2171,897 V909" stroke="#000" stroke-width="2" fill="none"/>
<g class="sf" font-size="21" text-anchor="middle">
<text x="1634" y="934">-18.0</text><text x="1768" y="934">-9.0</text><text x="1903" y="934">0.0</text><text x="2037" y="934">9.0</text><text x="2171" y="934">18.0</text>
</g>
</g>

<!-- Panel B -->
<g id="panelB">
<text class="sf big" x="14" y="996">B</text>
<path class="axis" d="M151.5,973 V1392 H783"/>
<path class="tick" d="M138,973 H151.5 M138,1056.8 H151.5 M138,1140.6 H151.5 M138,1224.4 H151.5 M138,1308.2 H151.5 M138,1392 H151.5 M151.5,1392 V1404 M309.4,1392 V1404 M467.3,1392 V1404 M625.2,1392 V1404 M783,1392 V1404"/>
<g class="sf tk" text-anchor="end">
<text x="129" y="983">100</text><text x="129" y="1067">80</text><text x="129" y="1151">60</text><text x="129" y="1235">40</text><text x="129" y="1318">20</text><text x="129" y="1402">0</text>
</g>
<g class="sf tk" text-anchor="middle">
<text x="151.5" y="1439">0</text><text x="309.4" y="1439">5</text><text x="467.3" y="1439">10</text><text x="625.2" y="1439">15</text><text x="783" y="1439">20</text>
</g>
<text class="sf ttl" x="454" y="1488" text-anchor="middle">Node degree</text>
<text class="sf ttl" transform="translate(86,1198) rotate(-90)" text-anchor="middle">Number of nodes</text>
<text class="sf" x="444" y="980" font-size="29">y = 47.426x<tspan font-size="18" dy="-13">-1.5</tspan></text>
<text class="sf" x="444" y="1017" font-size="29">R<tspan font-size="18" dy="-12">2</tspan><tspan dy="12">= 0.9842</tspan></text>
<polyline fill="none" stroke="#C2B47C" stroke-width="4" points="183.1,1014.9 214.7,1249.5 246.2,1350.1 277.8,1379.4 309.4,1383.6 341,1383.6 372.6,1383.6 404.1,1387.8 435.7,1387.8 467.3,1383.6 498.9,1387.8 530.5,1387.8 625.2,1383.6 656.8,1387.8 688.4,1387.8 751.5,1387.8"/>
<g class="pm">
<circle cx="183.1" cy="1014.9" r="8"/><circle cx="214.7" cy="1249.5" r="8"/><circle cx="246.2" cy="1350.1" r="8"/><circle cx="277.8" cy="1379.4" r="8"/><circle cx="309.4" cy="1383.6" r="8"/><circle cx="341" cy="1383.6" r="8"/><circle cx="372.6" cy="1383.6" r="8"/><circle cx="404.1" cy="1387.8" r="8"/><circle cx="435.7" cy="1387.8" r="8"/><circle cx="467.3" cy="1383.6" r="8"/><circle cx="498.9" cy="1387.8" r="8"/><circle cx="530.5" cy="1387.8" r="8"/><circle cx="625.2" cy="1383.6" r="8"/><circle cx="656.8" cy="1387.8" r="8"/><circle cx="688.4" cy="1387.8" r="8"/><circle cx="751.5" cy="1387.8" r="8"/>
</g>
</g>

<!-- Panel C -->
<g id="panelC">
<text class="sf big" x="778" y="1016">C</text>
<path class="axis" d="M916,983 V1425 H1578"/>
<path class="tick" d="M903,983 H916 M903,1093.5 H916 M903,1204 H916 M903,1314.5 H916 M903,1425 H916 M1048,1425 V1437 M1246,1425 V1437 M1444.5,1425 V1437"/>
<g class="sf tk" text-anchor="end">
<text x="896" y="994">20</text><text x="896" y="1104">15</text><text x="896" y="1215">10</text><text x="896" y="1325">5</text><text x="896" y="1436">0</text>
</g>
<g class="sf tk" text-anchor="middle">
<text x="1048" y="1471">mRNA</text><text x="1246" y="1471">miRNA</text><text x="1444.5" y="1471">lncRNA</text>
</g>
<text class="sf ttl" transform="translate(849,1209) rotate(-90)" text-anchor="middle">Degree centrality</text>
<g class="pm">
<rect x="986" y="1398" width="124" height="10" rx="5"/>
<circle cx="990.5" cy="1381" r="4.8"/><circle cx="999.4" cy="1381" r="4.8"/><circle cx="1008.3" cy="1381" r="4.8"/><circle cx="1017.1" cy="1381" r="4.8"/><circle cx="1026" cy="1381" r="4.8"/><circle cx="1034.9" cy="1381" r="4.8"/><circle cx="1043.8" cy="1381" r="4.8"/><circle cx="1052.7" cy="1381" r="4.8"/><circle cx="1061.5" cy="1381" r="4.8"/><circle cx="1070.4" cy="1381" r="4.8"/><circle cx="1079.3" cy="1381" r="4.8"/><circle cx="1088.2" cy="1381" r="4.8"/><circle cx="1097.1" cy="1381" r="4.8"/><circle cx="1106" cy="1381" r="4.8"/>
<circle cx="1028.7" cy="1359" r="4.8"/><circle cx="1041.6" cy="1359" r="4.8"/><circle cx="1054.5" cy="1359" r="4.8"/><circle cx="1067.4" cy="1359" r="4.8"/>
<circle cx="1041.6" cy="1337" r="4.8"/><circle cx="1054.5" cy="1337" r="4.8"/>
</g>
<line class="mean" x1="983" y1="1393" x2="1113" y2="1393"/>
<g class="pi">
<use href="#sq" x="1246" y="1005.1"/><use href="#sq" x="1246" y="1049.3"/><use href="#sq" x="1246" y="1071.4"/><use href="#sq" x="1240" y="1093.5"/><use href="#sq" x="1252" y="1093.5"/><use href="#sq" x="1246" y="1159.8"/><use href="#sq" x="1246" y="1181.9"/><use href="#sq" x="1240" y="1204"/><use href="#sq" x="1252" y="1204"/><use href="#sq" x="1246" y="1226.1"/><use href="#sq" x="1246" y="1248.2"/><use href="#sq" x="1240" y="1270.3"/><use href="#sq" x="1252" y="1270.3"/><use href="#sq" x="1240" y="1292.4"/><use href="#sq" x="1252" y="1292.4"/><use href="#sq" x="1240" y="1314.5"/><use href="#sq" x="1252" y="1314.5"/><use href="#sq" x="1246" y="1336.6"/><use href="#sq" x="1246" y="1358.7"/><use href="#sq" x="1240" y="1380.8"/><use href="#sq" x="1252" y="1380.8"/>
</g>
<line class="mean" x1="1180" y1="1226" x2="1312" y2="1226"/>
<g class="pl">
<use href="#tr" x="1419.6" y="1358.7"/><use href="#tr" x="1432.5" y="1358.7"/><use href="#tr" x="1445" y="1358.7"/><use href="#tr" x="1458" y="1358.7"/><use href="#tr" x="1470" y="1358.7"/>
<use href="#tr" x="1386" y="1380.8"/><use href="#tr" x="1395" y="1380.8"/><use href="#tr" x="1404" y="1380.8"/><use href="#tr" x="1413" y="1380.8"/><use href="#tr" x="1422" y="1380.8"/><use href="#tr" x="1431" y="1380.8"/><use href="#tr" x="1440" y="1380.8"/><use href="#tr" x="1449" y="1380.8"/><use href="#tr" x="1458" y="1380.8"/><use href="#tr" x="1467" y="1380.8"/><use href="#tr" x="1476" y="1380.8"/><use href="#tr" x="1485" y="1380.8"/><use href="#tr" x="1494" y="1380.8"/><use href="#tr" x="1503" y="1380.8"/>
<rect x="1380" y="1400" width="130" height="7"/>
<use href="#tr" x="1384" y="1401"/><use href="#tr" x="1389" y="1401"/><use href="#tr" x="1394" y="1401"/><use href="#tr" x="1399" y="1401"/><use href="#tr" x="1404" y="1401"/><use href="#tr" x="1409" y="1401"/><use href="#tr" x="1414" y="1401"/><use href="#tr" x="1419" y="1401"/><use href="#tr" x="1424" y="1401"/><use href="#tr" x="1429" y="1401"/><use href="#tr" x="1434" y="1401"/><use href="#tr" x="1439" y="1401"/><use href="#tr" x="1444" y="1401"/><use href="#tr" x="1449" y="1401"/><use href="#tr" x="1454" y="1401"/><use href="#tr" x="1459" y="1401"/><use href="#tr" x="1464" y="1401"/><use href="#tr" x="1469" y="1401"/><use href="#tr" x="1474" y="1401"/><use href="#tr" x="1479" y="1401"/><use href="#tr" x="1484" y="1401"/><use href="#tr" x="1489" y="1401"/><use href="#tr" x="1494" y="1401"/><use href="#tr" x="1499" y="1401"/><use href="#tr" x="1505" y="1401"/>
</g>
<line class="mean" x1="1379" y1="1395" x2="1510" y2="1395"/>
</g>

<!-- Panel D -->
<g id="panelD">
<text class="sf big" x="1544" y="1016">D</text>
<path class="axis" d="M1738,994 V1435 H2402"/>
<path class="tick" d="M1726,994 H1738 M1726,1104.3 H1738 M1726,1214.5 H1738 M1726,1324.8 H1738 M1726,1435 H1738 M1869.5,1435 V1447 M2068,1435 V1447 M2266.5,1435 V1447"/>
<g class="sf tk" text-anchor="end">
<text x="1718" y="1005">4000</text><text x="1718" y="1115">3000</text><text x="1718" y="1225">2000</text><text x="1718" y="1335">1000</text><text x="1718" y="1446">0</text>
</g>
<g class="sf tk" text-anchor="middle">
<text x="1869.5" y="1481">mRNA</text><text x="2068" y="1481">miRNA</text><text x="2266.5" y="1481">lncRNA</text>
</g>
<text class="sf ttl" transform="translate(1632,1188) rotate(-90)" text-anchor="middle">Betweenness centrality</text>
<g class="pm">
<circle cx="1870" cy="1300.8" r="4.8"/><circle cx="1870" cy="1368.6" r="4.8"/><circle cx="1851" cy="1372" r="4.8"/><circle cx="1888.7" cy="1377.7" r="4.8"/><circle cx="1863.3" cy="1383.2" r="4.8"/><circle cx="1876.3" cy="1383.2" r="4.8"/><circle cx="1857.7" cy="1399.7" r="4.8"/><circle cx="1882.5" cy="1399.7" r="4.8"/><circle cx="1870" cy="1406.3" r="4.8"/><circle cx="1907.8" cy="1410" r="4.8"/><circle cx="1831.8" cy="1415" r="4.8"/><circle cx="1844.8" cy="1419" r="4.8"/><circle cx="1857" cy="1421.7" r="4.8"/><circle cx="1870" cy="1421.7" r="4.8"/><circle cx="1882.5" cy="1419.9" r="4.8"/><circle cx="1894.9" cy="1418" r="4.8"/><circle cx="1818.3" cy="1421.7" r="4.8"/><circle cx="1921" cy="1427" r="4.8"/><circle cx="1816" cy="1428" r="4.8"/>
<rect x="1817" y="1429" width="104" height="9" rx="4.5"/>
</g>
<line class="mean" x1="1805" y1="1425" x2="1935" y2="1425"/>
<g class="pi">
<use href="#sq" x="2068.3" y="1120.6"/><use href="#sq" x="2068.3" y="1182.9"/><use href="#sq" x="2068.3" y="1199"/><use href="#sq" x="2074.5" y="1242.2"/><use href="#sq" x="2062" y="1254.3"/><use href="#sq" x="2062" y="1297.1"/><use href="#sq" x="2080.7" y="1308.1"/><use href="#sq" x="2074.5" y="1320.2"/><use href="#sq" x="2062" y="1322.8"/><use href="#sq" x="2080.7" y="1332.7"/><use href="#sq" x="2055.3" y="1340.4"/><use href="#sq" x="2068.3" y="1340.4"/><use href="#sq" x="2074.5" y="1354.6"/><use href="#sq" x="2062" y="1358.7"/><use href="#sq" x="2068.3" y="1383.2"/><use href="#sq" x="2074.5" y="1394.2"/><use href="#sq" x="2062" y="1397.1"/><use href="#sq" x="2068.3" y="1414.4"/><use href="#sq" x="2074.5" y="1429"/><use href="#sq" x="2062" y="1435.2"/>
</g>
<line class="mean" x1="2003" y1="1321" x2="2134" y2="1321"/>
<g class="pl">
<use href="#tr" x="2266.5" y="1249.5"/><use href="#tr" x="2241.7" y="1383.5"/><use href="#tr" x="2254.7" y="1384.3"/><use href="#tr" x="2279.5" y="1384.3"/><use href="#tr" x="2291.8" y="1383.5"/><use href="#tr" x="2266.5" y="1394.2"/><use href="#tr" x="2223" y="1408.9"/><use href="#tr" x="2235.5" y="1410.7"/><use href="#tr" x="2248.5" y="1414.4"/><use href="#tr" x="2260.9" y="1416.2"/><use href="#tr" x="2273.2" y="1418"/><use href="#tr" x="2285.6" y="1414.4"/><use href="#tr" x="2298" y="1412.5"/><use href="#tr" x="2310.4" y="1408.9"/><use href="#tr" x="2254.7" y="1425.3"/><use href="#tr" x="2279.5" y="1423.5"/>
<rect x="2205" y="1431" width="125" height="7"/>
<use href="#tr" x="2208" y="1432"/><use href="#tr" x="2213" y="1432"/><use href="#tr" x="2218" y="1432"/><use href="#tr" x="2223" y="1432"/><use href="#tr" x="2228" y="1432"/><use href="#tr" x="2233" y="1432"/><use href="#tr" x="2238" y="1432"/><use href="#tr" x="2243" y="1432"/><use href="#tr" x="2248" y="1432"/><use href="#tr" x="2253" y="1432"/><use href="#tr" x="2258" y="1432"/><use href="#tr" x="2263" y="1432"/><use href="#tr" x="2268" y="1432"/><use href="#tr" x="2273" y="1432"/><use href="#tr" x="2278" y="1432"/><use href="#tr" x="2283" y="1432"/><use href="#tr" x="2288" y="1432"/><use href="#tr" x="2293" y="1432"/><use href="#tr" x="2298" y="1432"/><use href="#tr" x="2303" y="1432"/><use href="#tr" x="2308" y="1432"/><use href="#tr" x="2313" y="1432"/><use href="#tr" x="2318" y="1432"/><use href="#tr" x="2323" y="1432"/><use href="#tr" x="2327" y="1432"/>
</g>
<line class="mean" x1="2203" y1="1425" x2="2332" y2="1425"/>
</g>
</svg>
